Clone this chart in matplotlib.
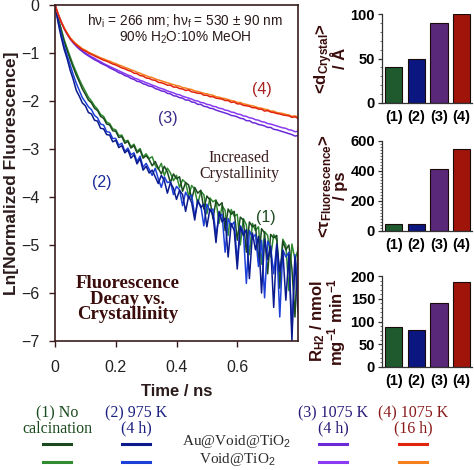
import numpy as np
import matplotlib
matplotlib.use("Agg")
import matplotlib.pyplot as plt
from matplotlib.lines import Line2D

# ---------------- data ----------------
time_ns = np.linspace(0.0, 0.80, 81)

# (1) No calcination
c1_au = [0, -0.28, -0.52, -0.76, -0.95, -1.13, -1.30, -1.46, -1.60, -1.75,
         -1.86, -1.98, -2.04, -2.15, -2.20, -2.32, -2.36, -2.48, -2.50, -2.62,
         -2.63, -2.76, -2.74, -2.88, -2.84, -2.98, -2.93, -3.08, -3.02, -3.19,
         -3.14, -3.22, -3.35, -3.26, -3.40, -3.52, -3.36, -3.48, -3.70, -3.52,
         -3.62, -3.58, -3.88, -3.70, -3.75, -4.05, -3.80, -3.92, -3.86, -4.25,
         -3.98, -4.06, -4.45, -4.08, -4.18, -4.12, -4.70, -4.25, -4.36, -4.30,
         -4.90, -4.42, -4.48, -5.15, -4.52, -4.62, -4.58, -5.35, -4.66, -4.75,
         -5.60, -4.78, -4.85, -4.80, -5.90, -4.92, -5.10, -5.00, -5.50, -6.50, -5.05]
c1_void = [0, -0.26, -0.49, -0.72, -0.90, -1.08, -1.25, -1.40, -1.55, -1.68,
           -1.80, -1.92, -2.00, -2.10, -2.17, -2.28, -2.32, -2.44, -2.47, -2.58,
           -2.60, -2.72, -2.71, -2.84, -2.82, -2.95, -2.90, -3.05, -2.99, -3.16,
           -3.10, -3.20, -3.16, -3.34, -3.42, -3.30, -3.55, -3.40, -3.50, -3.66,
           -3.55, -3.80, -3.64, -3.70, -3.98, -3.76, -3.84, -4.15, -3.88, -3.95,
           -4.35, -4.02, -4.10, -4.06, -4.55, -4.18, -4.28, -4.80, -4.26, -4.40,
           -4.36, -5.00, -4.45, -4.58, -5.20, -4.55, -4.70, -4.62, -5.40, -4.72,
           -4.80, -5.25, -4.78, -4.90, -5.70, -4.88, -5.00, -5.95, -4.98, -5.30, -5.10]
# (2) 975 K (4 h)
c2_au = [0, -0.36, -0.66, -0.92, -1.12, -1.36, -1.55, -1.78, -1.90, -2.04,
         -2.10, -2.24, -2.27, -2.40, -2.42, -2.57, -2.58, -2.70, -2.71, -2.85,
         -2.82, -2.97, -2.93, -3.08, -3.02, -3.19, -3.12, -3.31, -3.20, -3.44,
         -3.36, -3.50, -3.44, -3.58, -3.72, -3.55, -3.66, -3.92, -3.70, -3.82,
         -4.05, -3.86, -3.95, -4.30, -3.98, -4.12, -4.48, -4.06, -4.22, -4.15,
         -4.62, -4.25, -4.38, -4.95, -4.30, -4.52, -4.44, -5.25, -4.55, -4.70,
         -5.50, -4.62, -4.80, -4.68, -5.70, -4.75, -5.10, -4.82, -6.00, -4.88,
         -5.30, -5.02, -6.30, -4.98, -5.55, -5.12, -6.15, -5.20, -7.00, -5.25, -6.40]
c2_void = [0, -0.32, -0.60, -0.85, -1.05, -1.25, -1.45, -1.63, -1.78, -1.93,
           -2.02, -2.12, -2.18, -2.30, -2.35, -2.48, -2.50, -2.64, -2.65, -2.78,
           -2.78, -2.92, -2.88, -3.05, -2.98, -3.12, -3.08, -3.26, -3.15, -3.38,
           -3.30, -3.42, -3.55, -3.40, -3.62, -3.80, -3.58, -3.70, -3.68, -3.95,
           -3.78, -3.85, -4.18, -3.90, -4.02, -3.96, -4.40, -4.10, -4.18, -4.60,
           -4.15, -4.30, -4.25, -4.80, -4.40, -4.36, -5.15, -4.45, -4.60, -4.52,
           -5.35, -4.60, -4.72, -5.80, -4.70, -4.85, -4.78, -5.45, -4.90, -6.10,
           -4.92, -5.05, -5.60, -5.00, -6.50, -5.10, -5.25, -5.15, -6.80, -5.20, -5.95]
# (3) 1075 K (4 h)
c3_au = [0, -0.19, -0.35, -0.49, -0.61, -0.71, -0.79, -0.86, -0.92, -0.97,
         -1.02, -1.06, -1.10, -1.14, -1.17, -1.21, -1.24, -1.27, -1.31, -1.34,
         -1.37, -1.41, -1.43, -1.47, -1.49, -1.53, -1.55, -1.59, -1.60, -1.64,
         -1.66, -1.69, -1.70, -1.74, -1.76, -1.79, -1.80, -1.84, -1.85, -1.89,
         -1.90, -1.93, -1.94, -1.98, -1.98, -2.02, -2.03, -2.07, -2.07, -2.11,
         -2.12, -2.15, -2.16, -2.19, -2.21, -2.23, -2.25, -2.27, -2.30, -2.31,
         -2.33, -2.36, -2.37, -2.41, -2.41, -2.45, -2.46, -2.49, -2.50, -2.52,
         -2.55, -2.55, -2.59, -2.60, -2.62, -2.64, -2.66, -2.68, -2.70, -2.73, -2.72]
c3_void = [0, -0.18, -0.34, -0.48, -0.59, -0.69, -0.77, -0.84, -0.90, -0.95,
           -1.00, -1.04, -1.08, -1.11, -1.15, -1.18, -1.22, -1.25, -1.28, -1.31,
           -1.34, -1.37, -1.40, -1.43, -1.46, -1.48, -1.52, -1.54, -1.57, -1.59,
           -1.62, -1.64, -1.67, -1.69, -1.72, -1.74, -1.76, -1.79, -1.81, -1.83,
           -1.86, -1.87, -1.90, -1.92, -1.94, -1.96, -1.99, -2.00, -2.03, -2.04,
           -2.07, -2.08, -2.11, -2.12, -2.15, -2.16, -2.19, -2.20, -2.23, -2.24,
           -2.27, -2.28, -2.31, -2.32, -2.35, -2.36, -2.39, -2.40, -2.43, -2.44,
           -2.47, -2.48, -2.50, -2.52, -2.54, -2.56, -2.57, -2.60, -2.61, -2.64, -2.63]
# (4) 1075 K (16 h)
c4_au = [0, -0.19, -0.35, -0.49, -0.60, -0.70, -0.77, -0.83, -0.88, -0.93,
         -0.96, -1.00, -1.03, -1.06, -1.09, -1.12, -1.15, -1.17, -1.20, -1.23,
         -1.25, -1.28, -1.31, -1.33, -1.36, -1.38, -1.42, -1.43, -1.47, -1.48,
         -1.52, -1.53, -1.56, -1.57, -1.61, -1.62, -1.64, -1.67, -1.67, -1.71,
         -1.71, -1.74, -1.75, -1.78, -1.77, -1.81, -1.82, -1.84, -1.84, -1.88,
         -1.88, -1.91, -1.91, -1.94, -1.95, -1.96, -1.99, -1.99, -2.03, -2.02,
         -2.06, -2.06, -2.09, -2.10, -2.11, -2.14, -2.14, -2.17, -2.17, -2.21,
         -2.20, -2.23, -2.24, -2.26, -2.27, -2.29, -2.30, -2.31, -2.34, -2.33, -2.36]
c4_void = [0, -0.18, -0.34, -0.47, -0.58, -0.68, -0.75, -0.81, -0.86, -0.91,
           -0.94, -0.98, -1.01, -1.04, -1.07, -1.10, -1.12, -1.15, -1.17, -1.20,
           -1.22, -1.25, -1.27, -1.30, -1.32, -1.35, -1.37, -1.40, -1.42, -1.45,
           -1.47, -1.50, -1.51, -1.54, -1.56, -1.58, -1.60, -1.62, -1.64, -1.66,
           -1.68, -1.69, -1.72, -1.73, -1.75, -1.76, -1.79, -1.80, -1.82, -1.84,
           -1.85, -1.87, -1.88, -1.91, -1.92, -1.94, -1.95, -1.97, -1.99, -2.00,
           -2.03, -2.03, -2.06, -2.07, -2.09, -2.10, -2.12, -2.14, -2.15, -2.17,
           -2.18, -2.21, -2.21, -2.24, -2.25, -2.26, -2.28, -2.29, -2.32, -2.31, -2.33]

sample_labels = ["(1)", "(2)", "(3)", "(4)"]
d_crystal = [40, 50, 90, 100]
tau_fluor = [50, 48, 415, 550]
rate_h2 = [87, 81, 140, 186]

legend_titles = ["(1) No\ncalcination", "(2) 975 K\n(4 h)", "(3) 1075 K\n(4 h)", "(4) 1075 K\n(16 h)"]

# ---------------- style ----------------
SANS = ["Liberation Sans", "DejaVu Sans"]
SERIF = ["Liberation Serif", "DejaVu Serif"]
plt.rcParams["font.family"] = SANS
plt.rcParams["mathtext.fontset"] = "custom"
plt.rcParams["mathtext.rm"] = "Liberation Sans"
plt.rcParams["mathtext.it"] = "Liberation Sans:italic"
plt.rcParams["mathtext.bf"] = "Liberation Sans:bold"
SPINE = "#3a1c1c"

au_colors = ["#1b4a1e", "#0b1a8c", "#6a2ad6", "#e0240e"]
void_colors = ["#2f8a30", "#1c40d8", "#8a3af2", "#f5801e"]
bar_colors = ["#1e5a2e", "#0c1680", "#5a2878", "#a0140a"]
text_colors = ["#1b4a1e", "#1a2080", "#2a1a7a", "#8a1a1a"]

fig = plt.figure(figsize=(4.74, 4.70), dpi=100)

# ---------------- main decay plot ----------------
ax = fig.add_axes([55/474, 1-341/470, (298-55)/474, (341-5)/470])
curves = [(c1_au, c1_void), (c2_au, c2_void), (c3_au, c3_void), (c4_au, c4_void)]
for i, (ca, cv) in enumerate(curves):
    ax.plot(time_ns[:len(cv)], cv, color=void_colors[i], lw=1.1)
    ax.plot(time_ns[:len(ca)], ca, color=au_colors[i], lw=1.1)
ax.set_xlim(0, 0.80)
ax.set_ylim(-7, 0)
ax.set_xticks([0, 0.2, 0.4, 0.6])
ax.set_xticklabels(["0", "0.2", "0.4", "0.6"])
ax.set_yticks(range(-7, 1))
for s in ax.spines.values():
    s.set_color(SPINE)
    s.set_linewidth(1.2)
ax.tick_params(axis="both", direction="out", length=4, width=1, color=SPINE,
               labelsize=11.5, labelcolor="#222222")
ax.tick_params(axis="x", pad=10)
ax.tick_params(axis="y", pad=7)
ax.set_xlabel("Time / ns", fontsize=12, fontweight="bold", color="#2a1a1a", labelpad=6)
ax.set_ylabel("Ln[Normalized Fluorescence]", fontsize=12.5, fontweight="bold",
              color="#2a1a1a", labelpad=2)

ax.text(0.535, 0.952, "h\u03bd$_\\mathrm{i}$ = 266 nm; h\u03bd$_\\mathrm{f}$ = 530 ± 90 nm",
        transform=ax.transAxes, ha="center", va="center", fontsize=9.8, color="#2a1a1a")
ax.text(0.535, 0.902, r"90% H$_2$O:10% MeOH", transform=ax.transAxes,
        ha="center", va="center", fontsize=9.8, color="#2a1a1a")

ax.text(0.68, -1.76, "(4)", fontsize=11.5, color="#a82020", ha="center", va="center")
ax.text(0.37, -2.37, "(3)", fontsize=11.5, color="#3a2a8a", ha="center", va="center")
ax.text(0.155, -3.7, "(2)", fontsize=11.5, color="#1a2a9a", ha="center", va="center")
ax.text(0.695, -4.42, "(1)", fontsize=11.5, color="#1b4a1e", ha="center", va="center")
ax.text(0.607, -3.35, "Increased\nCrystallinity", fontsize=11.5, family=SERIF,
        color="#3a1c1c", ha="center", va="center", linespacing=0.95)
ax.text(0.24, -6.13, "Fluorescence\nDecay vs.\nCrystallinity", fontsize=13.5,
        family=SERIF, fontweight="bold", color="#3a0c0c", ha="center", va="center",
        linespacing=0.88)

# ---------------- bar charts ----------------
bar_specs = [
    (d_crystal, [0, 50, 100], (0, 100), r"<d$_\mathbf{Crystal}$>" + "\n/ Å", 14, 103, 5),
    (tau_fluor, [0, 200, 400, 600], (0, 600), "<\u03c4$_\\mathbf{Fluorescence}$>" + "\n/ ps", 141, 231, 10),
    (rate_h2, [0, 50, 100, 150, 200], (0, 200), r"R$_\mathbf{H2}$ / nmol" + "\n" + r"mg$^\mathbf{-1}$ min$^\mathbf{-1}$", 276, 367, 5),
]
xpos = np.arange(len(sample_labels))
for vals, ticks, ylim, lab, ytop, ybot, nminor in bar_specs:
    bx = fig.add_axes([382/474, 1-ybot/470, (472-382)/474, (ybot-ytop)/470])
    bx.bar(xpos, vals, width=0.77, color=bar_colors, edgecolor="#1a0a0a", linewidth=0.8)
    bx.set_xlim(-0.52, 3.47)
    bx.set_ylim(*ylim)
    bx.set_yticks(ticks)
    bx.yaxis.set_minor_locator(matplotlib.ticker.AutoMinorLocator(nminor))
    bx.set_xticks(xpos)
    bx.set_xticklabels(sample_labels)
    bx.tick_params(axis="x", which="both", length=0, pad=5, labelsize=10.5)
    bx.tick_params(axis="y", which="major", length=3, width=0.9, direction="out",
                   labelsize=10.5, pad=2, color="#333333")
    bx.tick_params(axis="y", which="minor", length=1.8, width=0.6, direction="out", color="#555555")
    for t in bx.get_xticklabels() + bx.get_yticklabels():
        t.set_fontweight("bold")
    for side in ["top", "right"]:
        bx.spines[side].set_visible(False)
    for side in ["left", "bottom"]:
        bx.spines[side].set_color("#333333")
        bx.spines[side].set_linewidth(0.9)
    bx.set_ylabel(lab, fontsize=12, fontweight="bold", color="#3a0c0c", labelpad=2,
                  linespacing=0.85)

# ---------------- legend at bottom ----------------
leg_x = [57, 136, 333, 413]
for i in range(4):
    fig.text(leg_x[i]/474, 1-421/470, legend_titles[i], family=SERIF, fontsize=11.5,
             color=text_colors[i], ha="center", va="center", linespacing=0.95)
    for yy, col in [(444, au_colors[i]), (462, void_colors[i])]:
        fig.add_artist(Line2D([(leg_x[i]-14)/474, (leg_x[i]+14)/474], [1-yy/470, 1-yy/470],
                              transform=fig.transFigure, color=col, lw=2.2))
fig.text(237/474, 1-441/470, r"Au@Void@TiO$_2$", family=SERIF, fontsize=11,
         color="#2a2a2a", ha="center", va="center")
fig.text(237/474, 1-460/470, r"Void@TiO$_2$", family=SERIF, fontsize=11,
         color="#2a2a2a", ha="center", va="center")

fig.savefig("out.png", dpi=100)
